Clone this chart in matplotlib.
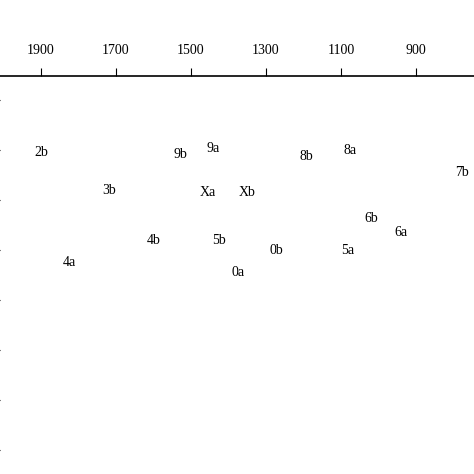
import matplotlib
matplotlib.use("Agg")
import matplotlib.pyplot as plt

labels = ["2b","9b","9a","8b","8a","7b","3b","Xa","Xb","6b","6a","4b","5b","0b","5a","4a","0a"]
xvals = [1900,1529,1441,1191,1076,777,1719,1455,1351,1020,940,1599,1425,1271,1081,1823,1375]
yvals = [153,154,148,157,150,173,190,192,192,219,232,240,240,250,251,262,273]
ticks = [1900,1700,1500,1300,1100,900,700]

fig = plt.figure(figsize=(4.74,4.74), dpi=100)
ax = fig.add_axes([0,0,1,1-76/474])
ax.set_xlim(2009,745)
ax.set_ylim(474,76)
for s in ["bottom","left","right"]:
    ax.spines[s].set_visible(False)
ax.spines["top"].set_linewidth(1.2)
ax.xaxis.tick_top()
ax.set_xticks(ticks[:-1])
ax.set_xticklabels([str(t) for t in ticks[:-1]], fontfamily="Liberation Serif", fontsize=10)
ax.tick_params(axis="x", direction="out", length=6, pad=8)
ax.text(1.02, 1.0, str(ticks[-1]), transform=ax.transAxes, ha="center", va="bottom",
        fontfamily="Liberation Serif", fontsize=10, clip_on=False,
        bbox=None).set_y(1.0 + 15/398)
for l,x,y in zip(labels,xvals,yvals):
    ax.text(x,y,l,ha="center",va="center",fontfamily="Liberation Serif",fontsize=10)
fig.savefig("out.png", dpi=100)
